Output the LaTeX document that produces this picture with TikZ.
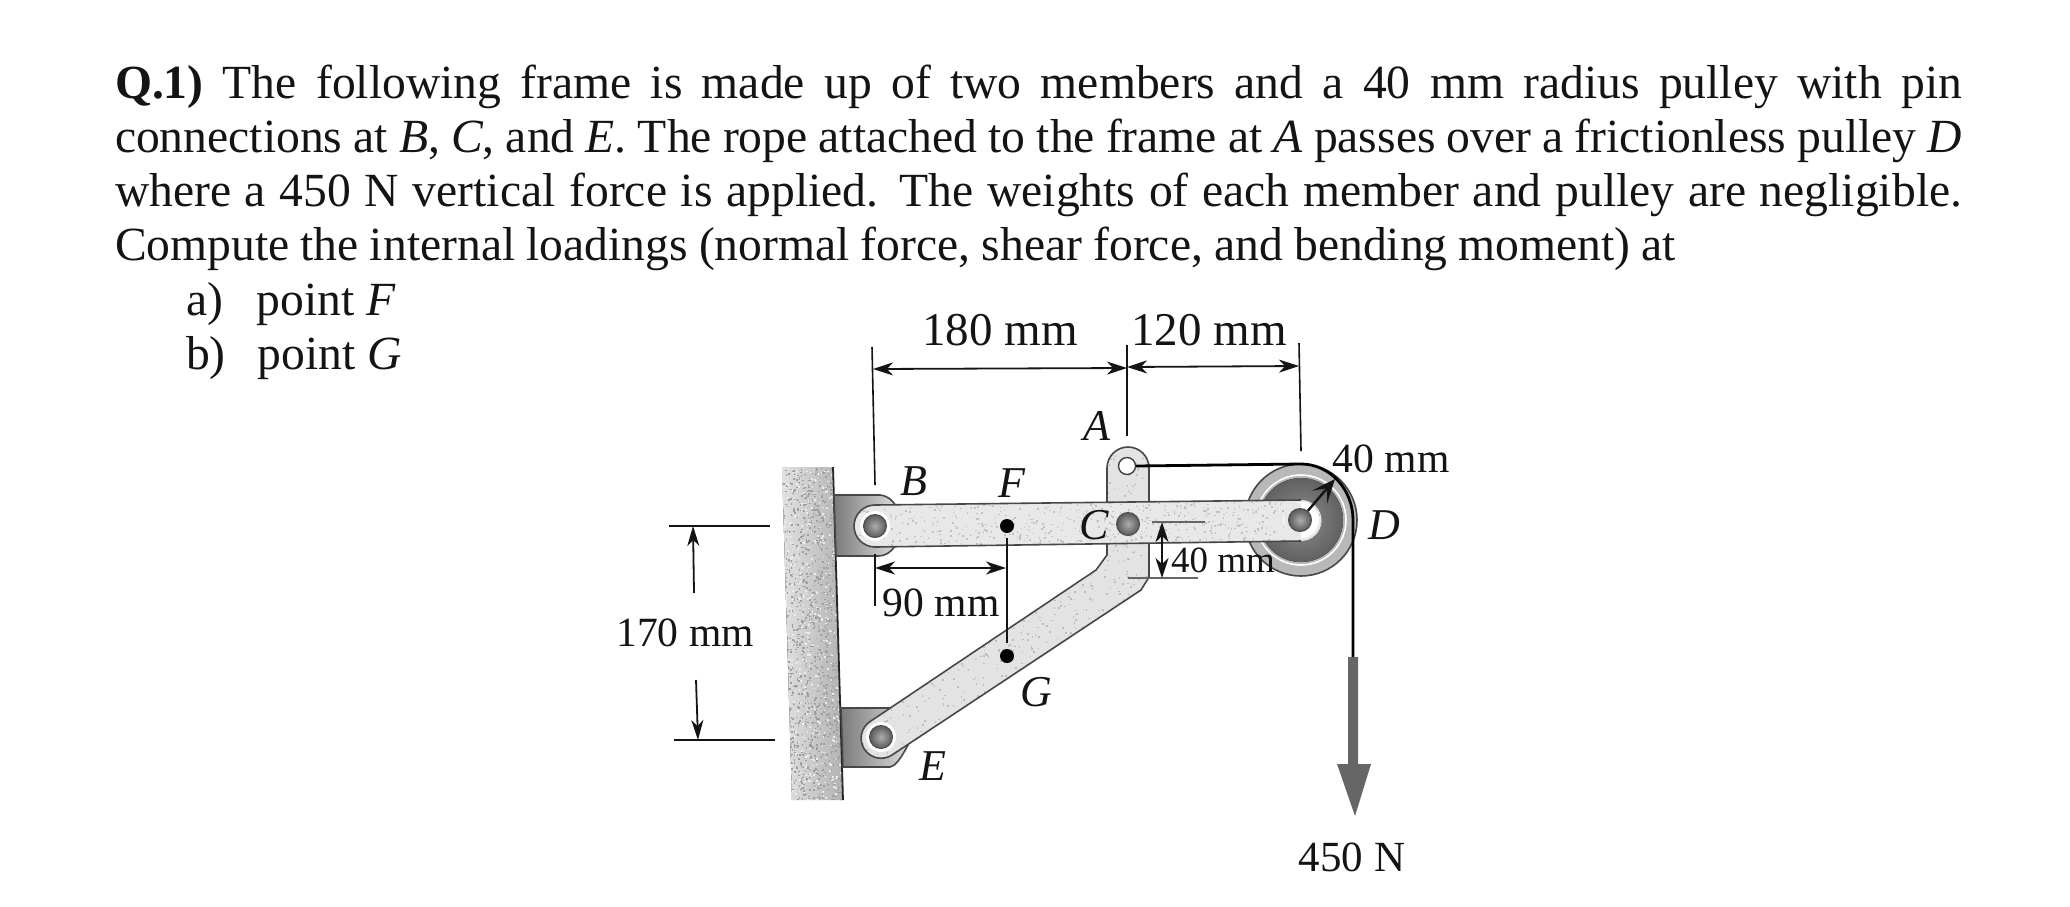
\documentclass[tikz,border=0pt]{standalone}
\usepackage{fontspec}
\setmainfont{Liberation Serif}
\usetikzlibrary{arrows.meta}
\definecolor{ink}{gray}{0.08}
\newcommand{\grain}[6]{% xmin xmax ymin ymax count colour
  \foreach \gi in {1,...,#5}{%
    \pgfmathsetmacro\gx{#1+rnd*(#2-#1)}%
    \pgfmathsetmacro\gy{#3+rnd*(#4-#3)}%
    \fill[#6] (\gx,\gy) rectangle ++(1.6,1.6);
  }%
}
\tikzset{
  x=0.5pt,y=-0.5pt,
  para/.style={anchor=base west,inner sep=0pt,outer sep=0pt,font=\fontsize{23.8pt}{27pt}\selectfont,text=ink},
  dimtext/.style={inner sep=0pt,font=\fontsize{20.8pt}{22pt}\selectfont,text=ink},
  widetext/.style={inner sep=0pt,font=\fontsize{23.5pt}{24pt}\selectfont,text=ink},
  smalltext/.style={inner sep=0pt,font=\fontsize{18.5pt}{22pt}\selectfont,text=ink},
  letter/.style={inner sep=0pt,font=\fontsize{22pt}{22pt}\selectfont\itshape,text=ink},
  leader/.style={draw=ink,line width=0.8pt},
  thinleader/.style={draw=black!60,line width=0.8pt},
  dimarrow/.style={draw=ink,line width=0.9pt,{Stealth[length=10pt,width=6.5pt,inset=3pt]}-{Stealth[length=10pt,width=6.5pt,inset=3pt]}},
  onearrow/.style={draw=ink,line width=0.9pt,-{Stealth[length=10pt,width=6pt,inset=3pt]}},
  radiusarrow/.style={draw=ink,line width=1.2pt,-{Stealth[length=12pt,width=10pt,inset=6pt]}},
  member/.style={draw=black!72,line width=0.8pt},
  bracket/.style={draw=black!72,line width=0.8pt,left color=black!52,right color=black!14},
  pin/.style={circle,draw=black!70,line width=0.5pt,inner sep=0pt,minimum size=11.5pt,inner color=black!32,outer color=black!65},
  hole/.style={circle,draw=black!75,line width=0.7pt,inner sep=0pt,minimum size=8.5pt,fill=white},
  pointdot/.style={circle,fill=black,inner sep=0pt,minimum size=7pt},
  rope/.style={draw=black,line width=1.4pt},
}
\begin{document}
\begin{tikzpicture}
\useasboundingbox (0,0) rectangle (2070,906);
\fill[white] (0,0) rectangle (2070,906);
\pgfmathsetseed{7}
% question text
\node[para] (l1) at (115,98) {\makebox[923.5pt][s]{\textbf{Q.1)} The following frame is made up of two members and a 40 mm radius pulley with pin}};
\node[para] (l2) at (115,152) {\makebox[923.5pt][s]{connections at \textit{B}, \textit{C}, and \textit{E}. The rope attached to the frame at \textit{A} passes over a frictionless pulley \textit{D}}};
\node[para] (l3) at (115,206) {\makebox[923.5pt][s]{where a 450 N vertical force is applied. The weights of each member and pulley are negligible.}};
\node[para] (l4) at (115,260) {\makebox[780.5pt][s]{Compute the internal loadings (normal force, shear force, and bending moment) at}};
\node[para] (la) at (186,315) {a)\hspace{17pt}point \textit{F}};
\node[para] (lb) at (186,369) {b)\hspace{16pt}point \textit{G}};
% wall
\begin{scope}
\clip (782,467) -- (833,467) -- (843,800) -- (792,800) -- cycle;
\fill[left color=black!12,right color=black!30] (782,467) rectangle (843,800);
\grain{782}{843}{467}{800}{1100}{black!38}
\grain{782}{843}{467}{800}{500}{black!8}
\end{scope}
\draw[black!85,line width=0.9pt] (833,467) -- (843,800);
% brackets at B and E
\path[bracket] (834,495) -- (880,495) .. controls (888,496) and (892,500) .. (896,506) -- (896,545) .. controls (890,553) and (885,556) .. (878,556) -- (836,556) -- cycle;
\path[bracket] (841,708) -- (892,708) -- (908,745) .. controls (900,760) and (895,766) .. (890,767) -- (843,767) -- cycle;
% pulley
\coordinate (Dc) at (1301,520);
\fill[black!28,draw=black!72,line width=0.8pt] (Dc) circle[radius=56];
\draw[white,line width=0.8pt] (Dc) circle[radius=45];
\fill[inner color=black!45,outer color=black!62] (Dc) circle[radius=42];
% member A-C-E
\def\memberACE{(1107,468) arc[start angle=180,end angle=360,radius=21] -- (1149,577) -- (1141,590) -- (892,755)
  arc[start angle=57,end angle=237,radius=20] -- (1096,570) -- (1107,555) -- cycle}
\fill[black!11] \memberACE;
\begin{scope}
\clip \memberACE;
\grain{860}{1150}{447}{770}{1500}{black!26}
\end{scope}
\path[member] \memberACE;
% member B-D
\def\memberBD{(875,505) -- (1301,500) arc[start angle=270,end angle=450,radius=20.5] -- (875,547) arc[start angle=90,end angle=270,radius=21] -- cycle}
\fill[black!9] \memberBD;
\begin{scope}
\clip \memberBD;
\grain{854}{1322}{500}{547}{650}{black!24}
\end{scope}
\draw[black!72,line width=0.8pt] (1301,500) -- (875,505) arc[start angle=270,end angle=90,radius=21] -- (1301,541);
% halos, pins and points
\fill[white] (1301,520) circle[radius=18];
\fill[black!9] (1284,503) rectangle (1301,539);
\fill[white] (875,526) circle[radius=15];
\fill[white] (881,737) circle[radius=15];
\node[hole] (holeA) at (1127,466) {};
\node[pin] (pinB) at (875,526) {};
\node[pin] (pinC) at (1128,524) {};
\node[pin] (pinD) at (1300,520) {};
\node[pin] (pinE) at (881,737) {};
\node[pointdot] (ptF) at (1007,526) {};
\node[pointdot] (ptG) at (1007,656) {};
% rope
\coordinate (rTop) at (1301,464);
\coordinate (rLow) at (1353,658);
\draw[rope] (holeA.east) -- (rTop) arc[start angle=270,end angle=360,x radius=52,y radius=56] -- (rLow);
% load arrow
\fill[black!60] (1348,657) -- (1358,657) -- (1358,764) -- (1371,764) -- (1355,816) -- (1337,764) -- (1348,764) -- cycle;
% dimensions top
\coordinate (e1a) at (872,347); \coordinate (e1b) at (875,485);
\coordinate (e2a) at (1127,345); \coordinate (e2b) at (1127,436);
\coordinate (e3a) at (1299,343); \coordinate (e3b) at (1301,451);
\draw[leader] (e1a) -- (e1b);
\draw[leader] (e2a) -- (e2b);
\draw[leader] (e3a) -- (e3b);
\coordinate (d1a) at (873,369); \coordinate (d1b) at (1127,368);
\coordinate (d2a) at (1127,367); \coordinate (d2b) at (1299,366);
\draw[dimarrow] (d1a) -- (d1b);
\draw[dimarrow] (d2a) -- (d2b);
\node[widetext] (t180) at (1000,330) {180 mm};
\node[widetext] (t120) at (1209,330) {120 mm};
% 90 mm
\coordinate (e4a) at (875,554); \coordinate (e4b) at (875,606);
\coordinate (e5a) at (1007,538); \coordinate (e5b) at (1007,643);
\draw[leader] (e4a) -- (e4b);
\draw[leader] (e5a) -- (e5b);
\coordinate (d3a) at (875,568); \coordinate (d3b) at (1006,568);
\draw[dimarrow] (d3a) -- (d3b);
\node[dimtext] (t90) at (941,603) {90 mm};
% 170 mm
\coordinate (e6a) at (669,526); \coordinate (e6b) at (770,526);
\coordinate (e7a) at (674,740); \coordinate (e7b) at (775,740);
\draw[leader] (e6a) -- (e6b);
\draw[leader] (e7a) -- (e7b);
\coordinate (a1) at (694,593); \coordinate (a1t) at (693,526);
\coordinate (a2) at (696,680); \coordinate (a2t) at (698,740);
\draw[onearrow] (a1) -- (a1t);
\draw[onearrow] (a2) -- (a2t);
\node[dimtext] (t170) at (685,633) {170 mm};
% small 40 mm
\coordinate (e8a) at (1152,522); \coordinate (e8b) at (1205,522);
\coordinate (e9a) at (1128,578); \coordinate (e9b) at (1198,578);
\draw[thinleader] (e8a) -- (e8b);
\draw[thinleader] (e9a) -- (e9b);
\coordinate (d4a) at (1162,522); \coordinate (d4b) at (1162,578);
\draw[dimarrow] (d4a) -- (d4b);
\node[smalltext] (t40b) at (1223,560) {40 mm};
% radius
\coordinate (rEnd) at (1335,479);
\draw[radiusarrow] (pinD) -- (rEnd);
\node[dimtext] (t40a) at (1391,459) {40 mm};
\node[widetext,font=\fontsize{21.5pt}{22pt}\selectfont] (t450) at (1352,857) {450 N};
% letters
\node[letter] (nA) at (1097,426) {A};
\node[letter] (nB) at (914,481) {B};
\node[letter] (nF) at (1012,483) {F};
\node[letter] (nC) at (1094,525) {C};
\node[letter] (nD) at (1384,525) {D};
\node[letter] (nG) at (1036,692) {G};
\node[letter] (nE) at (933,766) {E};
\end{tikzpicture}
\end{document}
